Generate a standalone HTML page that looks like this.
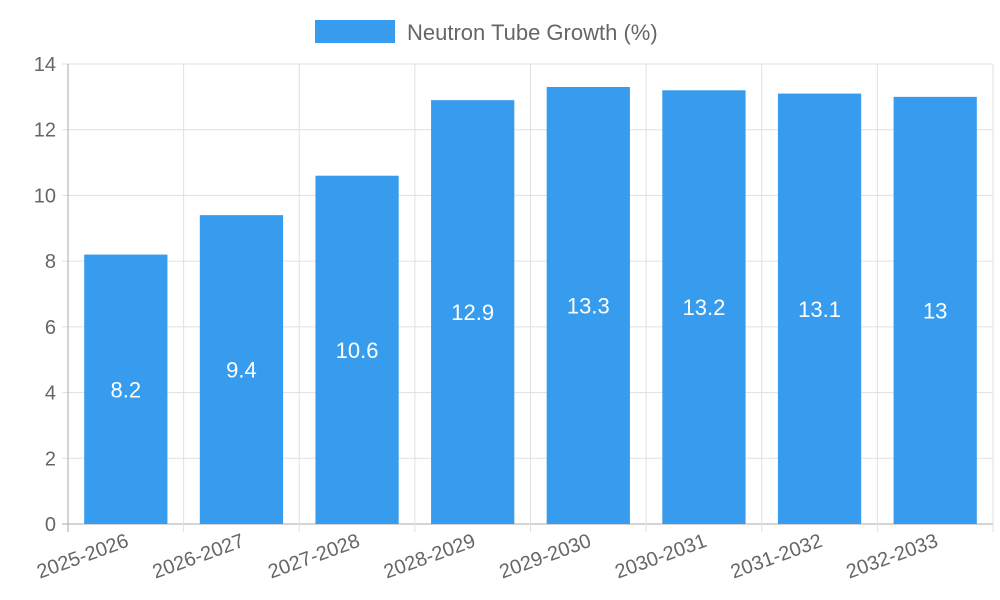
<!DOCTYPE html>
<html><head><meta charset="utf-8"><style>
html,body{margin:0;padding:0;background:#fff;}
svg{display:block;font-family:"Liberation Sans",sans-serif;}
</style></head><body>
<svg id="chart" width="1000" height="600">
<g>
<rect x="315" y="20" width="80" height="23" fill="#379ced"></rect>
<text x="407" y="40" font-size="22" fill="#666">Neutron Tube Growth (%)</text>
</g>
<g id="grid"></g><g id="bars"></g><g id="labels"></g>
</svg>
<script>
const categories=["2025-2026","2026-2027","2027-2028","2028-2029","2029-2030","2030-2031","2031-2032","2032-2033"];
const values=[8.2,9.4,10.6,12.9,13.3,13.2,13.1,13];
const yTicks=[0,2,4,6,8,10,12,14];
const L=68,R=993,T=64,B=524,yMax=14;
const NS="http://www.w3.org/2000/svg";
const svg=document.getElementById('chart');
const grid=document.getElementById('grid'),bars=document.getElementById('bars'),labels=document.getElementById('labels');
const step=(R-L)/categories.length;
const y=v=>B-(v/yMax)*(B-T);
const xc=i=>L+step*(i+0.5);
function mk(tag,attrs,parent){const e=document.createElementNS(NS,tag);for(const k in attrs)e.setAttribute(k,attrs[k]);parent.appendChild(e);return e;}
yTicks.forEach(t=>{
 const l=mk('line',{x1:L-6,x2:R,y1:y(t),y2:y(t),stroke:t===0?'#aaa':'#e0e0e0','stroke-width':1},grid);
 
 
 const tx=mk('text',{x:L-12,y:y(t)+7,'text-anchor':'end','font-size':20,fill:'#666'},grid);
 tx.textContent=t;
 
 
});
for(let i=0;i<=categories.length;i++){
 const x=L+step*i;
 const l=mk('line',{x1:x,x2:x,y1:T,y2:B+8,stroke:i===0?'#aaa':'#e0e0e0','stroke-width':1},grid);
 
 
}
const bw=step*0.72;
categories.forEach((c,i)=>{
 const v=values[i];
 const r=mk('rect',{x:xc(i)-bw/2,y:y(v),width:bw,height:B-y(v),fill:'#379ced'},bars);
 
 
 const vt=mk('text',{x:xc(i),y:y(v/2)+8,'text-anchor':'middle','font-size':22,fill:'#fff'},labels);
 vt.textContent=v;
 
 
 const xt=mk('text',{x:xc(i)+4,y:B+22,'text-anchor':'end','font-size':20,fill:'#666',transform:`rotate(-20 ${xc(i)+4} ${B+22})`},labels);
 xt.textContent=c;
 
 
});
</script>
</body></html>
